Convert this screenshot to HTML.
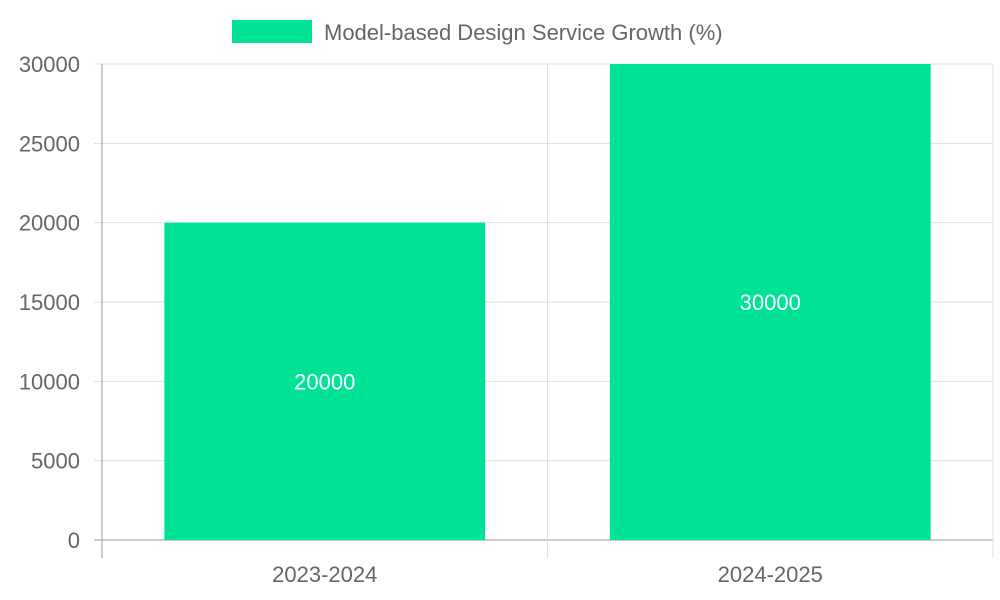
<!DOCTYPE html>
<html><head><meta charset="utf-8"><style>
body{margin:0;background:#fff;}
svg{display:block;font-family:"Liberation Sans",sans-serif;}
</style></head><body>
<svg id="chart" width="1000" height="600"></svg>
<script>
const categories = ["2023-2024", "2024-2025"];
const seriesValues = [20000, 30000];
const yTicks = [0, 5000, 10000, 15000, 20000, 25000, 30000];
const seriesName = "Model-based Design Service Growth (%)";

const NS = "http://www.w3.org/2000/svg";
const svgEl = document.getElementById("chart");
const plotLeft = 102, plotRight = 993, plotTop = 64, plotBottom = 540, yMax = 30000;
const yScale = v => plotBottom - (v / yMax) * (plotBottom - plotTop);
const bandW = (plotRight - plotLeft) / categories.length;
const xScale = i => plotLeft + i * bandW;
function mk(tag, attrs) {
  const e = document.createElementNS(NS, tag);
  for (const k in attrs) e.setAttribute(k, attrs[k]);
  svgEl.appendChild(e);
  return e;
}
yTicks.forEach(t => {
  const g = mk("line", {x1: plotLeft - 8, x2: plotRight, y1: yScale(t), y2: yScale(t), stroke: t === 0 ? "#999" : "#e0e0e0", "stroke-width": 1});
  
  
  const l = mk("text", {x: 80, y: yScale(t) + 8, "text-anchor": "end", "font-size": 22, fill: "#666"});
  l.textContent = t;
  
  
});
for (let i = 0; i <= categories.length; i++) {
  const v = mk("line", {x1: xScale(i), x2: xScale(i), y1: plotTop, y2: plotBottom + 18, stroke: i === 0 ? "#999" : "#e0e0e0", "stroke-width": 1});
  
  
}
categories.forEach((c, i) => {
  const bw = bandW * 0.72;
  const bx = xScale(i) + (bandW - bw) / 2;
  const r = mk("rect", {x: bx, y: yScale(seriesValues[i]), width: bw, height: plotBottom - yScale(seriesValues[i]), fill: "#00e396"});
  
  
  const vl = mk("text", {x: bx + bw / 2, y: (yScale(seriesValues[i]) + plotBottom) / 2 + 8, "text-anchor": "middle", "font-size": 22, fill: "#fff"});
  vl.textContent = seriesValues[i];
  
  
  const xl = mk("text", {x: xScale(i) + bandW / 2, y: 582, "text-anchor": "middle", "font-size": 22, fill: "#666"});
  xl.textContent = c;
  
  
});
const lb = mk("rect", {x: 232, y: 20, width: 80, height: 23, fill: "#00e396"});


const lt = mk("text", {x: 324, y: 40, "font-size": 22, fill: "#666"});
lt.textContent = seriesName;


</script>
</body></html>
